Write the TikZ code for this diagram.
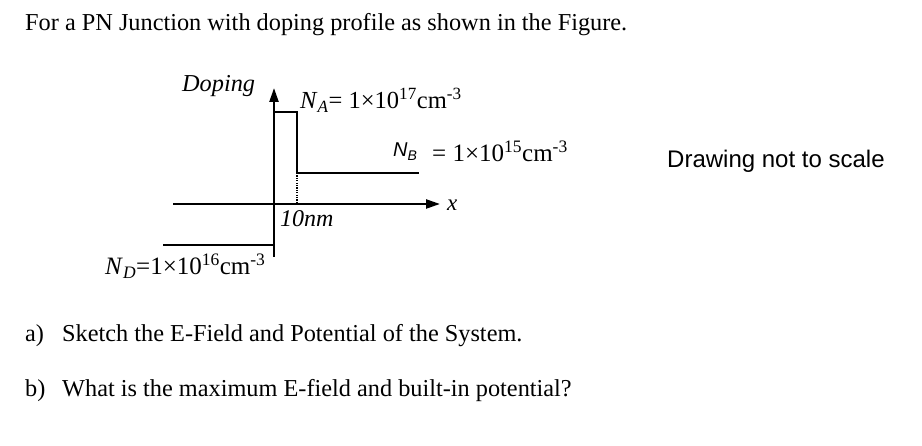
\documentclass[tikz,border=0pt]{standalone}
\usepackage{fontspec}
\setmainfont{Liberation Serif}
\setsansfont{Liberation Sans}
\usetikzlibrary{arrows.meta}

\tikzset{
  txt/.style={anchor=base west, inner sep=0pt},
  axis/.style={line width=2.3pt, -{Triangle[length=14pt,width=9pt]}},
  profile/.style={line width=1.6pt}
}

\begin{document}
\begin{tikzpicture}[x=1pt,y=-1pt]
	\useasboundingbox (0,0) rectangle (922,446);
	%--- enunciado
	\node[txt, font=\fontsize{24.3}{28}\selectfont] (title) at (25,31) {For a PN Junction with doping profile as shown in the Figure.};
	
	%--- eixos
	\coordinate (ybot) at (274,257);
	\coordinate (ytop) at (274,88);
	\coordinate (xleft) at (173,204);
	\coordinate (xright) at (440,204);
	\draw[axis] (ybot) -- (ytop);
	\draw[axis] (xleft) -- (xright);
	
	%--- perfil de dopagem
	\coordinate (nabot) at (297,173);
	\draw[profile] (274,112) -- (297,112) -- (nabot) -- (419,173);
	\draw[line width=2.5pt, dash pattern=on 1.2pt off 1.2pt] (nabot) -- (297,204);
	\draw[profile] (163,245) -- (274,245);
	
	%--- rotulos
	\node[txt, font=\fontsize{24.3}{28}\selectfont\itshape] (doping) at (182,92) {Doping};
	\node[txt, font=\fontsize{24.5}{28}\selectfont] (na) at (300,109) {\textit{N}\textsubscript{\textit{A}}= 1×10\textsuperscript{17}cm\textsuperscript{-3}};
	\node[txt, font=\fontsize{20}{24}\selectfont\sffamily\itshape] (nb) at (393,157) {N\textsubscript{B}};
	\node[txt, font=\fontsize{25}{28}\selectfont] (nbval) at (432,162) {= 1×10\textsuperscript{15}cm\textsuperscript{-3}};
	\node[txt, font=\fontsize{23}{26}\selectfont\itshape] (xlab) at (447,211) {x};
	\node[txt, font=\fontsize{24}{28}\selectfont\itshape] (len) at (280,227) {10nm};
	\node[txt, font=\fontsize{25}{28}\selectfont] (nd) at (105,275) {\textit{N}\textsubscript{\textit{D}}=1×10\textsuperscript{16}cm\textsuperscript{-3}};
	\node[txt, font=\fontsize{24}{27}\selectfont\sffamily] (note) at (667,168) {Drawing not to scale};
	
	%--- perguntas
	\node[txt, font=\fontsize{24.3}{28}\selectfont] (qa) at (25,342) {\makebox[37pt][l]{a)}Sketch the E-Field and Potential of the System.};
	\node[txt, font=\fontsize{24.3}{28}\selectfont] (qb) at (25,397) {\makebox[37pt][l]{b)}What is the maximum E-field and built-in potential?};
\end{tikzpicture}
\end{document}
